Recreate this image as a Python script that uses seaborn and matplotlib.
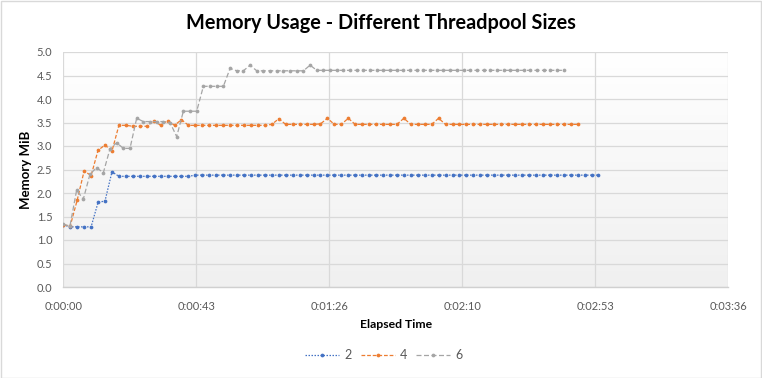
import numpy as np
import pandas as pd
import matplotlib
matplotlib.use("Agg")
import matplotlib.pyplot as plt
from matplotlib.colors import LinearSegmentedColormap
from matplotlib.patches import Rectangle
import seaborn as sns

# ---------------- data ----------------
SERIES_NAMES = ["2", "4", "6"]

# sampling interval (seconds) of each run
STEP_2 = 2.2575
STEP_4 = 2.2575
STEP_6 = 2.1665

MEM_2 = ([1.32, 1.28, 1.28, 1.28, 1.28, 1.80, 1.83, 2.45]
         + [2.355] * 11
         + [2.38] * 59)

MEM_4 = ([1.32, 1.30, 1.85, 2.47, 2.37, 2.91, 3.02, 2.89,
          3.44, 3.44, 3.42, 3.42, 3.42, 3.54, 3.44, 3.54, 3.44, 3.56]
         + [3.44] * 12
         + [3.46, 3.58, 3.46, 3.46, 3.46, 3.46, 3.46, 3.47, 3.59,
            3.46, 3.46, 3.59, 3.46, 3.46, 3.46, 3.46, 3.46, 3.46, 3.46,
            3.59, 3.46, 3.46, 3.46, 3.46, 3.59]
         + [3.46] * 20)

MEM_6 = ([1.33, 1.30, 2.06, 1.87, 2.40, 2.54, 2.43, 2.94, 3.07, 2.95, 2.95,
          3.59, 3.52, 3.52, 3.52, 3.52, 3.50, 3.20, 3.74, 3.74, 3.74,
          4.27, 4.27, 4.27, 4.27, 4.65, 4.60, 4.60, 4.72]
         + [4.60] * 8
         + [4.72]
         + [4.61] * 38)

X_TICK_SECONDS = [0, 43.2, 86.4, 129.6, 172.8, 216.0]
X_TICK_LABELS = ["0:00:00", "0:00:43", "0:01:26", "0:02:10", "0:02:53", "0:03:36"]
Y_TICKS = [0.0, 0.5, 1.0, 1.5, 2.0, 2.5, 3.0, 3.5, 4.0, 4.5, 5.0]

TITLE = "Memory Usage - Different Threadpool Sizes"
X_LABEL = "Elapsed Time"
Y_LABEL = "Memory MiB"

COLORS = ["#4472C4", "#ED7D31", "#A5A5A5"]
DASHES = [(0, (1.2, 1.2)), (0, (3, 1.5)), (0, (4, 2))]

frames = []
for name, step, vals in zip(SERIES_NAMES, [STEP_2, STEP_4, STEP_6], [MEM_2, MEM_4, MEM_6]):
    t = np.arange(len(vals)) * step
    frames.append(pd.DataFrame({"seconds": t, "mib": vals, "threads": name}))
df = pd.concat(frames, ignore_index=True)

# ---------------- plot ----------------
sns.set_theme(style="white")
plt.rcParams["font.family"] = ["Lato", "DejaVu Sans"]

W, H = 762, 378
fig = plt.figure(figsize=(W / 100, H / 100), dpi=100)
ax = fig.add_axes([63.3 / W, 1 - 287 / H, (728.3 - 63.3) / W, (287 - 52) / H])

# gradient plot-area background
cmap = LinearSegmentedColormap.from_list("bg", ["#ffffff", "#f0f0f0"])
grad = np.linspace(0, 1, 256).reshape(-1, 1)
ax.imshow(grad, extent=(0, 1, 0, 1), transform=ax.transAxes, aspect="auto",
          cmap=cmap, zorder=0, origin="upper")

for name, color, dash in zip(SERIES_NAMES, COLORS, DASHES):
    sub = df[df["threads"] == name]
    sns.lineplot(data=sub, x="seconds", y="mib", ax=ax, color=color,
                 linestyle=dash, linewidth=0.9, marker="o", markersize=2.7,
                 markeredgewidth=0, estimator=None, errorbar=None,
                 label=name, zorder=3)

ax.set_xlim(0, 216)
ax.set_ylim(0, 5.0)
ax.set_xticks(X_TICK_SECONDS)
ax.set_xticklabels(X_TICK_LABELS)
ax.set_yticks(Y_TICKS)
ax.set_yticklabels([f"{v:.1f}" for v in Y_TICKS])
ax.grid(True, color="#d9d9d9", linewidth=0.9, zorder=1)
ax.set_axisbelow(True)
for s in ["top", "right", "left"]:
    ax.spines[s].set_visible(False)
ax.spines["bottom"].set_color("#d0d0d0")
ax.spines["bottom"].set_linewidth(1.0)
ax.tick_params(axis="both", length=0, labelsize=8, labelcolor="#595959")
ax.tick_params(axis="x", pad=10)
ax.tick_params(axis="y", pad=8)

ax.set_xlabel(X_LABEL, fontsize=8.8, fontweight="bold", color="black", labelpad=5)
ax.set_ylabel(Y_LABEL, fontsize=9.5, fontweight="bold", color="black", labelpad=3)

fig.text(0.5, 1 - 23 / H, TITLE, ha="center", va="center",
         fontsize=14.3, fontweight="bold", color="black")

leg = ax.legend(loc="center", bbox_to_anchor=(0.482, (287 - 355) / (287 - 52)),
                ncol=3, frameon=False, fontsize=9, handlelength=2.7,
                columnspacing=0.75, handletextpad=0.4)
for txt in leg.get_texts():
    txt.set_color("#595959")

fig.patches.append(Rectangle((0.5 / W, 0.5 / H), 1 - 1.5 / W, 1 - 1.5 / H,
                             transform=fig.transFigure, fill=False,
                             edgecolor="#d9d9d9", linewidth=1.0))

fig.savefig("out.png", dpi=100)
